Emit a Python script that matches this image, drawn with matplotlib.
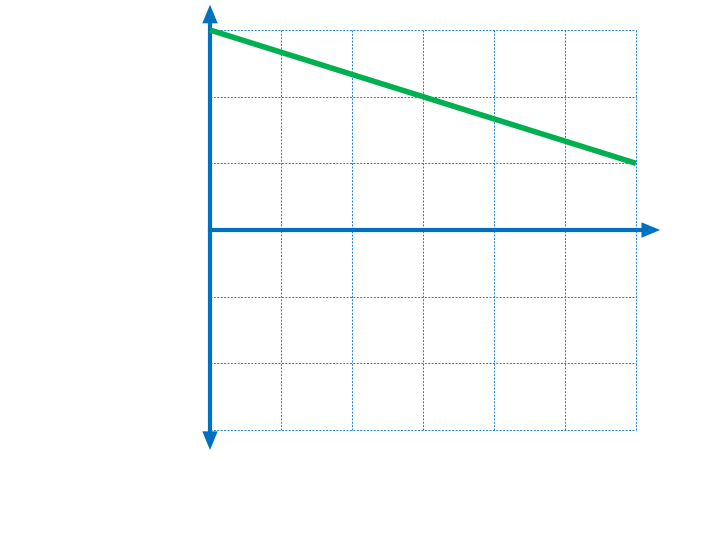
import matplotlib
matplotlib.use("Agg")
import matplotlib.pyplot as plt

# === Data ===
x_vals = [0, 6]
y_vals = [3, 1]
x_ticks = [0, 1, 2, 3, 4, 5, 6]
y_ticks = [-3, -2, -1, 0, 1, 2, 3]

BLUE = "#0070C0"
GREEN = "#00B050"

fig = plt.figure(figsize=(7.2, 5.4), dpi=100)
ax = fig.add_axes([210 / 720, 1 - 430 / 540, 426 / 720, 400 / 540])
ax.set_xlim(0, 6)
ax.set_ylim(-3, 3)
ax.axis("off")

# === Dotted grid ===
for xv in x_ticks:
    ax.plot([xv, xv], [-3, 3], color="#1F80CC", lw=0.7, ls=(0, (2, 1.5)), clip_on=False, zorder=1)
for yv in y_ticks:
    ax.plot([0, 6], [yv, yv], color="#1F80CC", lw=0.7, ls=(0, (2, 1.5)), clip_on=False, zorder=1)

# === Axes with arrows ===
arrow = dict(arrowstyle="-|>,head_length=0.8,head_width=0.33", color=BLUE, lw=3,
             shrinkA=0, shrinkB=0, joinstyle="miter", capstyle="butt")
ax.annotate("", xy=(6.34, 0), xytext=(0, 0), arrowprops=arrow, annotation_clip=False, zorder=3)
ax.annotate("", xy=(0, 3.38), xytext=(0, -0.02), arrowprops=arrow, annotation_clip=False, zorder=3)
ax.annotate("", xy=(0, -3.3), xytext=(0, 0.02), arrowprops=arrow, annotation_clip=False, zorder=3)

# === Line ===
ax.plot(x_vals, y_vals, color=GREEN, lw=4, solid_capstyle="butt", clip_on=False, zorder=4)

fig.savefig("out.png", dpi=100)
